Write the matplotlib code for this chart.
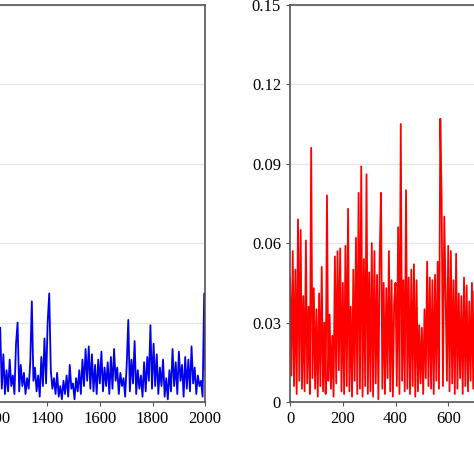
import numpy as np
import matplotlib
matplotlib.use("Agg")
import matplotlib.pyplot as plt

plt.rcParams['font.family'] = ['Liberation Serif', 'DejaVu Serif']

blue_x_start, blue_x_step = 1222, 6
blue_milli = [28,5,18,3,12,4,16,6,10,3,
              22,30,4,14,6,11,3,9,5,15,
              38,8,13,4,10,2,17,6,24,7,
              30,41,12,5,9,3,11,2,6,1,
              8,3,10,2,14,5,7,1,9,4,
              12,3,16,6,20,8,21,5,18,4,
              14,3,16,7,19,4,13,6,15,3,
              17,5,20,8,13,3,11,6,9,2,
              14,31,4,16,7,23,3,12,5,10,
              2,15,4,17,8,29,5,22,6,18,
              3,13,6,16,2,9,1,12,4,20,
              6,15,3,19,8,14,2,17,5,16,
              4,21,7,13,3,10,6,8,2,41,12]
red_x_step = 5
red_milli = [47,10,57,6,50,3,69,8,65,5,
             40,4,61,7,36,3,96,9,43,5,
             35,2,41,6,51,4,30,3,78,8,
             33,5,25,2,55,7,57,12,58,4,
             45,3,59,6,73,4,36,2,50,8,
             62,3,79,5,89,2,54,6,86,3,
             49,4,60,2,57,7,48,1,55,79,
             5,45,3,43,9,57,4,46,2,38,
             45,6,66,3,105,8,46,4,80,5,
             47,3,50,6,52,2,46,4,29,7,
             28,3,35,9,53,6,47,5,46,3,
             48,8,53,5,107,77,6,70,42,8,
             59,4,57,7,46,3,56,5,41,9,
             40,3,47,6,44,4,38,8,45,5,
             42,3,47,7,36]
y_ticks = [0, 0.03, 0.06, 0.09, 0.12, 0.15]
y_labels = ['0', '0.03', '0.06', '0.09', '0.12', '0.15']

bx = blue_x_start + blue_x_step*np.arange(len(blue_milli))
bx[-1] = 2000
by = np.array(blue_milli)/1000
rx = red_x_step*np.arange(len(red_milli))
ry = np.array(red_milli)/1000

fig = plt.figure(figsize=(4.74, 4.74), dpi=100)
axL = fig.add_axes([-0.679, 0.152, 1.112, 0.8376])
axR = fig.add_axes([0.612, 0.152, 1.112, 0.8376])
for ax in (axL, axR):
    ax.set_ylim(0, 0.15)
    ax.set_xlim(0, 2000)
    ax.set_yticks(y_ticks)
    ax.set_yticklabels(y_labels)
    ax.set_xticks(range(0, 2001, 200))
    ax.grid(axis='y', color='#e6e6e6', lw=1)
    ax.set_axisbelow(True)
    for s in ax.spines.values():
        s.set_color('#555555'); s.set_linewidth(1.2)
    ax.tick_params(labelsize=12, direction='out', length=3, color='#555555')
axL.plot(bx, by, color='#0000ee', lw=1.3)
axR.plot(rx, ry, color='#ff0000', lw=1.3)
fig.savefig('out.png', dpi=100)
